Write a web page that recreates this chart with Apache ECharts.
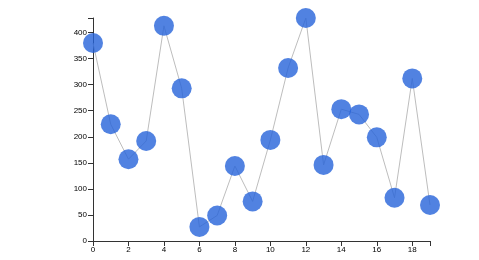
<!DOCTYPE html>
<html><head><meta charset="utf-8">
<script src="https://cdn.jsdelivr.net/npm/echarts@6/dist/echarts.min.js"></script>
<style>html,body{margin:0;padding:0;background:#fff}#c{width:479px;height:260px}</style>
</head><body><div id="c"></div>
<script>
const xValues = [0,1,2,3,4,5,6,7,8,9,10,11,12,13,14,15,16,17,18,19];
const yValues = [380,224,157,192,413,293,27,49,144,76,194,332,428,146,253,243,199,83,312,69];
const xTicks = [0,2,4,6,8,10,12,14,16,18];
const yTicks = [0,50,100,150,200,250,300,350,400];
const xMax = 19, yMax = 428;

const chart = echarts.init(document.getElementById('c'), null, {renderer:'canvas'});
const labelStyle = {color:'#000',fontSize:8,fontFamily:'Liberation Sans, Arial, sans-serif'};
const pts = xValues.map((x,i)=>[x,yValues[i]]);
chart.setOption({
  animation:false,
  backgroundColor:'#fff',
  grid:{left:93,right:49,top:18,bottom:19},
  xAxis:{type:'value',min:0,max:xMax,interval:2,
    axisLine:{show:true,lineStyle:{color:'#333',width:1}},
    splitLine:{show:false},
    axisTick:{show:true,length:5,customValues:xTicks.concat([xMax]),lineStyle:{color:'#333'}},
    axisLabel:Object.assign({},labelStyle,{customValues:xTicks,margin:5})
  },
  yAxis:{type:'value',min:0,max:yMax,interval:50,
    axisLine:{show:true,lineStyle:{color:'#333',width:1}},
    splitLine:{show:false},
    axisTick:{show:true,length:5,customValues:yTicks.concat([yMax]),lineStyle:{color:'#333'}},
    axisLabel:Object.assign({},labelStyle,{customValues:yTicks,margin:6})
  },
  series:[{
    type:'line',
    data:pts,
    symbol:'none',
    lineStyle:{color:'#bdbdbd',width:1},
    z:1
  },{
    type:'scatter',
    data:pts,
    symbol:'circle',symbolSize:20,
    itemStyle:{color:'#2563d9',opacity:0.8},
    z:2
  }]
});
</script></body></html>
